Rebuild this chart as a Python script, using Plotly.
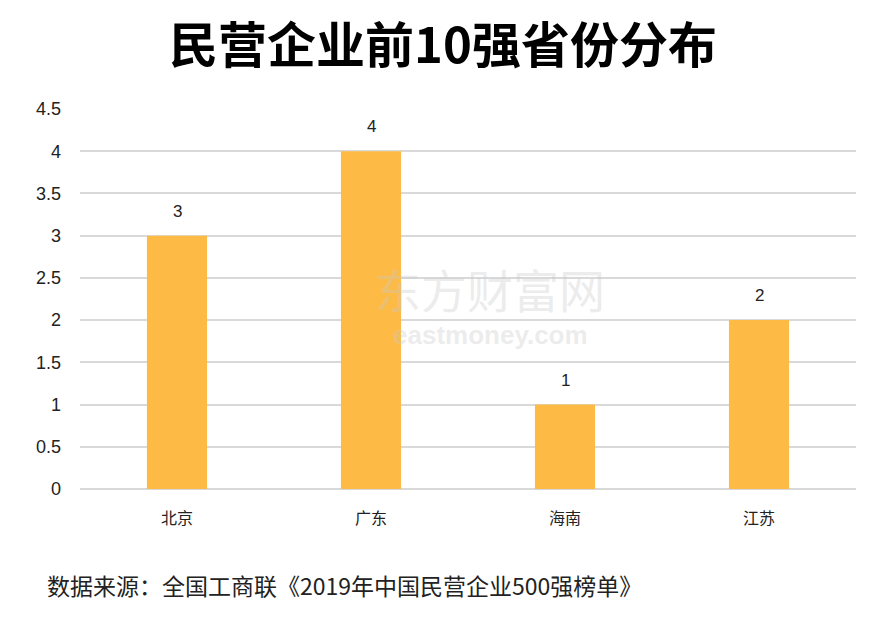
import plotly.graph_objects as go

provinces = ["北京", "广东", "海南", "江苏"]
counts = [3, 4, 1, 2]
y_ticks = [0, 0.5, 1, 1.5, 2, 2.5, 3, 3.5, 4, 4.5]
y_tick_labels = ["0", "0.5", "1", "1.5", "2", "2.5", "3", "3.5", "4", "4.5"]

font_cjk = "Noto Sans CJK SC, Noto Sans, sans-serif"

L, R, T, B = 80, 30, 109, 131
PW, PH = 886 - L - R, 620 - T - B

def px_x(x):
    return (x - L) / PW

def px_y(y):
    return (620 - B - y) / PH

fig = go.Figure()
fig.add_trace(go.Bar(
    x=provinces, y=counts,
    marker=dict(color="#FDBB45", line=dict(width=0)),
    hoverinfo="skip",
))

annotations = []
for p, c in zip(provinces, counts):
    annotations.append(dict(x=p, y=c, xref="x", yref="y", text=str(c),
                            showarrow=False, yanchor="bottom", yshift=13,
                            font=dict(size=17, color="#222222", family="Liberation Sans, Arial")))

# watermark
annotations.append(dict(x=px_x(490), y=px_y(288), xref="paper", yref="paper", text="东方财富网",
                        showarrow=False, yanchor="middle",
                        font=dict(size=46, color="rgba(200,200,200,0.35)", family=font_cjk)))
annotations.append(dict(x=px_x(490), y=px_y(335), xref="paper", yref="paper", text="<b>eastmoney.com</b>",
                        showarrow=False, yanchor="middle",
                        font=dict(size=26, color="rgba(200,200,200,0.35)", family="Liberation Sans, Arial")))

annotations.append(dict(x=px_x(45), y=px_y(585), xref="paper", yref="paper",
                        xanchor="left", yanchor="middle",
                        text="数据来源：全国工商联《2019年中国民营企业500强榜单》",
                        showarrow=False, font=dict(size=23, color="#222222", family=font_cjk)))

fig.update_layout(
    width=886, height=620,
    margin=dict(l=L, r=R, t=T, b=B),
    paper_bgcolor="white", plot_bgcolor="white",
    bargap=0.69,
    showlegend=False,
    title=dict(text="<b>民营企业前10强省份分布</b>", x=0.5, xanchor="center",
               y=1 - 46/620, yanchor="middle",
               font=dict(size=49, color="#000000", family=font_cjk)),
    xaxis=dict(showgrid=False, showline=False, ticks="", zeroline=False,
               tickfont=dict(size=16, color="#222222", family=font_cjk),
               ticklabelstandoff=18),
    yaxis=dict(range=[0, 4.5], tickvals=y_ticks, ticktext=y_tick_labels,
               showgrid=True, gridcolor="#D9D9D9", gridwidth=1.5,
               zeroline=True, zerolinecolor="#D9D9D9", zerolinewidth=1.5,
               showline=False, ticks="", ticklabelstandoff=18,
               tickfont=dict(size=18, color="#222222", family="Liberation Sans, Arial")),
    annotations=annotations,
)

fig.write_html("out.html")
